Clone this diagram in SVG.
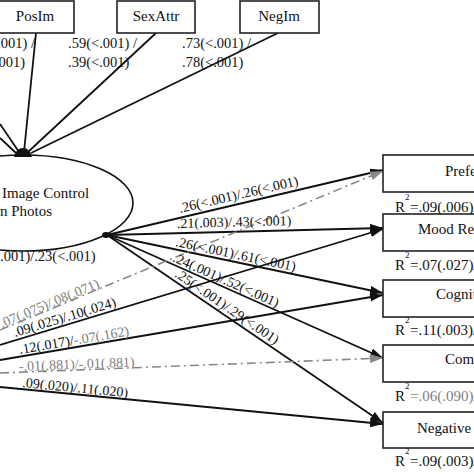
<svg xmlns="http://www.w3.org/2000/svg" width="474" height="474" viewBox="0 0 474 474">
<style>
.box{fill:#fff;stroke:#222;stroke-width:1.6}
.nt{font-family:"Liberation Serif","Times New Roman",serif;font-size:15px;fill:#111}
.lt{font-family:"Liberation Serif","Times New Roman",serif;font-size:14.5px;fill:#111}
.et{font-family:"Liberation Serif","Times New Roman",serif;font-size:14px;fill:#111}
.g{fill:#808080}
.sup{font-family:"Liberation Serif","Times New Roman",serif;font-size:9px;fill:#111}
.ln{stroke:#111;stroke-width:1.8;fill:none}
.arr{stroke:#111;stroke-width:1.8;fill:none;marker-end:url(#ah)}
.dd{stroke:#888;stroke-width:1.6;fill:none;stroke-dasharray:9 4 2 4;marker-end:url(#ahg)}
</style>
<defs>
<marker id="ah" viewBox="0 0 13 9" refX="13" refY="4.5" markerWidth="13" markerHeight="9" markerUnits="userSpaceOnUse" orient="auto"><path d="M0,0 L13,4.5 L0,9 z" fill="#111"/></marker>
<marker id="ahg" viewBox="0 0 13 9" refX="13" refY="4.5" markerWidth="13" markerHeight="9" markerUnits="userSpaceOnUse" orient="auto"><path d="M0,0 L13,4.5 L0,9 z" fill="#888"/></marker>
</defs>
<rect width="474" height="474" fill="#fff"/>

<g id="connectors">
<line class="ln" x1="36" y1="33" x2="24" y2="152"/>
<line class="ln" x1="156" y1="33" x2="28" y2="152"/>
<line class="ln" x1="278" y1="33" x2="31" y2="153"/>
<line class="ln" x1="0" y1="124" x2="19" y2="152"/>
<line class="ln" x1="0" y1="138" x2="16" y2="153"/>
<path d="M14,157 Q16,148 23,148 Q30,148 32,157 Z" fill="#111"/>

<line class="arr" x1="107" y1="235" x2="383" y2="170"/>
<line class="arr" x1="107" y1="235" x2="383" y2="228"/>
<line class="arr" x1="107" y1="235" x2="383" y2="293"/>
<line class="arr" x1="107" y1="235" x2="383" y2="358"/>
<line class="arr" x1="107" y1="235" x2="383" y2="423"/>
<ellipse cx="106" cy="235" rx="4" ry="3" fill="#111"/>

<line class="dd" x1="0" y1="330" x2="383" y2="171"/>
<line class="arr" x1="0" y1="345" x2="383" y2="229"/>
<line class="arr" x1="0" y1="360" x2="383" y2="295"/>
<line class="dd" x1="0" y1="373" x2="383" y2="358"/>
<line class="arr" x1="0" y1="387" x2="383" y2="424"/>

<text class="lt" x="35" y="48" text-anchor="end">.001) /</text>
<text class="lt" x="25" y="67" text-anchor="end">.001)</text>
<text class="lt" x="68" y="48">.59(&lt;.001) /</text>
<text class="lt" x="68" y="67">.39(&lt;.001)</text>
<text class="lt" x="182" y="48">.73(&lt;.001) /</text>
<text class="lt" x="182" y="67">.78(&lt;.001)</text>
<text class="lt" x="0" y="261">.001)/.23(&lt;.001)</text>

<text class="et" transform="translate(180,213) rotate(-13.25)">.26(&lt;.001)/.26(&lt;.001)</text>
<text class="et" transform="translate(177,228) rotate(-1.45)">.21(.003)/.43(&lt;.001)</text>
<text class="et" transform="translate(175,246) rotate(11.87)">.26(&lt;.001)/.61(&lt;.001)</text>
<text class="et" transform="translate(172,261) rotate(24)">.24(.001)/.52(&lt;.001)</text>
<text class="et" transform="translate(174,276) rotate(34.26)">.25(&lt;.001)/.29(&lt;.001)</text>

<text class="et g" transform="translate(2,328) rotate(-22.54)">.07(.075)/.08(.071)</text>
<text class="et" transform="translate(15,337) rotate(-16.85)">.09(.025)/.10(.024)</text>
<text class="et" transform="translate(20,354) rotate(-9.63)">.12(.017)/<tspan class="g">-.07(.162)</tspan></text>
<text class="et g" transform="translate(19,371) rotate(-2.24)">-.01(.881)/-.01(.881)</text>
<text class="et" transform="translate(22,387) rotate(5.52)">.09(.020)/.11(.020)</text>
</g>

<g id="posim"><rect class="box" x="-5" y="1" width="79" height="32"/><text class="nt" x="35" y="21" text-anchor="middle">PosIm</text></g>
<g id="sexattr"><rect class="box" x="117" y="1" width="78" height="32"/><text class="nt" x="156" y="21" text-anchor="middle">SexAttr</text></g>
<g id="negim"><rect class="box" x="240" y="1" width="79" height="32"/><text class="nt" x="279" y="21" text-anchor="middle">NegIm</text></g>

<g id="imagecontrol">
<ellipse cx="23" cy="203" rx="110" ry="48" fill="none" stroke="#111" stroke-width="1.6"/>
<text class="nt" x="2" y="198">Image Control</text>
<text class="nt" x="0" y="216">n Photos</text>
</g>

<g id="preferences"><rect class="box" x="383" y="155" width="100" height="37"/><text class="nt" x="445" y="176">Prefe</text>
<text class="nt" x="395" y="212">R</text><text class="sup" x="405" y="200">2</text><text class="nt" x="410" y="212">=.09(.006)/</text></g>
<g id="moodrej"><rect class="box" x="383" y="214" width="100" height="37"/><text class="nt" x="418" y="234">Mood Re</text>
<text class="nt" x="395" y="270">R</text><text class="sup" x="405" y="258">2</text><text class="nt" x="410" y="270">=.07(.027)/</text></g>
<g id="cognitive"><rect class="box" x="383" y="280" width="100" height="37"/><text class="nt" x="436" y="299">Cogniti</text>
<text class="nt" x="395" y="335">R</text><text class="sup" x="405" y="323">2</text><text class="nt" x="410" y="335">=.11(.003)/</text></g>
<g id="com"><rect class="box" x="383" y="345" width="100" height="37"/><text class="nt" x="445" y="364">Com</text>
<text class="nt" x="395" y="401">R</text><text class="sup" x="405" y="389">2</text><text class="nt g" x="410" y="401">=.06(.090)/</text></g>
<g id="negative"><rect class="box" x="383" y="412" width="100" height="36"/><text class="nt" x="417" y="433">Negative</text>
<text class="nt" x="395" y="466">R</text><text class="sup" x="405" y="454">2</text><text class="nt" x="410" y="466">=.09(.003)/</text></g>
</svg>
